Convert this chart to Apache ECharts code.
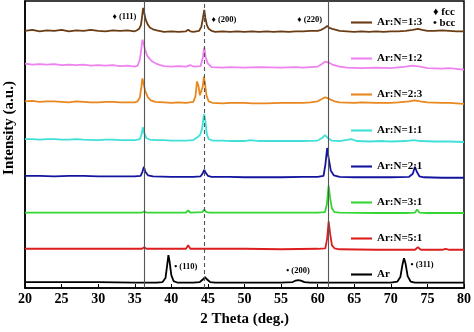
<!DOCTYPE html>
<html><head><meta charset="utf-8">
<script src="https://cdn.jsdelivr.net/npm/echarts@6/dist/echarts.min.js"></script>
<style>html,body{margin:0;padding:0;background:#fff}#c{width:474px;height:332px}</style>
</head><body><div id="c"></div>
<script>
const seriesNames = ['Ar:N=1:3','Ar:N=1:2','Ar:N=2:3','Ar:N=1:1','Ar:N=2:1','Ar:N=3:1','Ar:N=5:1','Ar'];
const xTicks = [20,25,30,35,40,45,50,55,60,65,70,75,80];

const arN13 = [[20,259],[21,260],[22,258.5],[23,259.5],[24,259],[25,260],[26,258.5],[27,259.5],[28,259],[29,260],[30,259],[31,258.5],[32,259.5],[33,259],[34,259.5],[35,258.5],[35.3,259.5],[35.6,261],[35.85,265],[36.0,273],[36.15,282],[36.3,277],[36.5,270],[36.8,265],[37.1,262],[37.5,260.5],[38,259.5],[39,258],[40,258.5],[41,258],[42,258.5],[42.3,260],[42.6,258.5],[43,258],[43.8,259],[44.1,263],[44.3,271],[44.5,280],[44.65,272],[44.85,265],[45.1,261],[45.5,259],[46,258],[47,258.5],[48,258],[49,258.5],[50,258],[51,258.5],[52,258],[53,258.5],[54,258],[55,258.5],[56,258],[57,258.5],[58,258.5],[59,259],[60,259],[60.5,260],[61,262],[61.3,264],[61.6,262],[62,261],[62.5,260],[63,259],[64,258.5],[65,258],[66,258.5],[67,258],[68,258.5],[69,258],[70,258.5],[71,258.5],[72,259],[73,260],[73.7,261],[74.3,260],[75,259],[76,259],[77,259.5],[78,259],[79,258.5],[80,258.5]];
const arN12 = [[20,226],[21,225],[22,225.5],[23,225],[24,225.5],[25,224.5],[26,225],[27,224.5],[28,225],[29,224],[30,224.5],[31,224],[32,224.5],[33,223.5],[34,224],[35,223],[35.4,224],[35.7,230],[35.9,241],[36.05,250],[36.2,247],[36.4,240],[36.7,234],[37.0,231],[37.4,228],[37.9,226],[38.5,224.5],[39,223.5],[40,223],[41,223.5],[42,223],[42.6,224.5],[43,223],[44,223.5],[44.3,232],[44.5,242],[44.7,232],[45,226],[45.5,222.5],[47,222],[48,222.5],[50,222],[52,222.5],[55,222],[57,222.5],[58,222],[60,223],[60.5,225],[61,228],[61.5,227],[62,225],[63,223],[64,222],[66,221.5],[68,222],[70,221.5],[72,223],[73,224],[74,223],[75,221.5],[77,221],[78,221.5],[80,220]];
const arN23 = [[20,188],[21,188.5],[22,187.5],[23,188],[24,188],[25,187.5],[26,187],[27,188],[28,187.5],[29,187],[30,187],[31,187.5],[32,187.5],[33,187],[34,187],[35,187],[35.4,188],[35.7,192],[35.9,202],[36.05,211],[36.2,206],[36.45,198],[36.8,192],[37.2,189],[37.8,187.5],[39,187],[40,186.5],[41,187],[42,186.5],[43,187.5],[43.3,193],[43.5,208],[43.7,204],[43.9,194],[44.1,193],[44.3,203],[44.45,213],[44.6,206],[44.8,194],[45.1,188],[45.6,186.5],[47,186],[48,186.5],[50,186.5],[51,186],[53,186],[55,186.5],[56,186.5],[58,186.5],[59,187],[60,188],[60.5,190],[61,192],[61.3,191.5],[61.7,190],[62.3,188],[63,187],[65,186.5],[66,187],[68,186.5],[70,186.5],[71,187],[72.5,188],[73.3,189],[74,188],[75,187],[77,186.5],[78,186.5],[79,186],[80,185.5]];
const arN11 = [[20,150],[21,150],[22,149.5],[23,150],[24,150],[25,149.5],[26,149.5],[27,150],[28,149.5],[30,149],[31,149.5],[32,149.5],[33,149],[34,149],[35,149],[35.7,150],[35.95,155],[36.1,162],[36.25,157],[36.6,151],[37,149.5],[38,149],[39,149],[40,148.5],[41,148.5],[42,148.5],[43,149],[43.6,152],[43.9,154],[44.2,160],[44.4,172],[44.5,175],[44.65,168],[44.85,155],[45.1,150],[45.6,148.5],[47,148.5],[48,148],[50,148],[50.8,149],[52,148],[54,148],[55,148],[57,148],[58,148],[60,148.5],[60.6,151],[61.0,154],[61.4,151],[61.9,148.5],[63,148],[64.6,150],[65.3,148],[67,147.5],[69,148],[70,147.5],[72,148],[73.2,149],[74,148],[76,147.5],[78,147.5],[80,147]];
const arN21 = [[20,113],[22,113],[24,112.5],[26,113],[28,113],[30,112.5],[32,112.5],[34,112.5],[35,112.5],[35.8,113],[36.05,117],[36.25,122],[36.45,117],[36.8,113.5],[37.5,112.5],[40,112],[42,112],[43,112],[44,112.5],[44.25,115],[44.5,119],[44.7,116],[45,113],[45.5,112],[48,112],[50,111.5],[53,111.5],[55,111.5],[58,112],[60,112],[60.8,113],[61.05,124],[61.3,141],[61.5,131],[61.8,118],[62.2,113.5],[63,112],[65,111.5],[68,111.5],[70,111.5],[72.5,112],[73.0,115],[73.3,122],[73.55,117],[73.9,112.5],[74.5,111.5],[77,111],[80,111]];
const arN31 = [[20,76],[25,76],[30,76],[35,76],[36.0,76],[36.3,77],[36.6,76],[40,76],[42.0,76],[42.3,78],[42.6,76],[44.2,76.5],[44.5,79],[44.8,76.5],[45.2,76],[50,76],[55,76],[60,76],[61.0,76.5],[61.25,84],[61.5,103],[61.7,91],[61.95,80],[62.3,76.5],[63,76],[68,75.5],[72,75.5],[73.3,76],[73.6,79],[73.9,76],[75,75.5],[80,75.5]];
const arN51 = [[20,39.5],[25,39.5],[30,39.5],[35,39.5],[36.0,39.5],[36.3,41],[36.6,39.5],[40,39.5],[42.0,39.5],[42.3,43],[42.6,39.5],[44.3,39.5],[44.5,40.5],[44.7,39.5],[50,39.5],[55,39],[60,39.5],[61.05,40],[61.3,50],[61.5,67],[61.7,55],[61.95,43],[62.3,40],[63,39],[68,38.5],[73.3,38.5],[73.7,41],[74.1,38.5],[77,38.5],[77.5,39.5],[78,38.5],[80,38.5]];
const arOnly = [[20,6],[25,6],[30,6],[35,5.5],[38,5.5],[38.8,6],[39.2,10],[39.45,24],[39.6,33],[39.75,27],[40.0,13],[40.3,7],[40.8,5.5],[43,5.5],[43.9,6],[44.3,8.5],[44.6,11],[44.9,8.5],[45.3,6],[46,5.5],[50,5.5],[55,5.5],[56.6,6],[57.0,7.5],[57.35,8],[57.7,7.5],[58.2,6],[59,5.5],[65,5.5],[70,5.5],[70.9,6.5],[71.3,11],[71.6,24],[71.8,30],[72.0,25],[72.3,12],[72.7,6.5],[73.3,5.5],[76,5.5],[80,5.5]];
const seriesData = [arN13, arN12, arN23, arN11, arN21, arN31, arN51, arOnly];

const solidRefLines = [36.3, 61.5];
const dashedRefLines = [44.5];

const peakLabels = [
  ['\u2666 (111)', 31.95, 273],
  ['\u2666 (200)', 45.5, 270],
  ['\u2666 (220)', 57.2, 270],
  ['\u2022 (110)', 40.4, 21],
  ['\u2022 (200)', 55.7, 17],
  ['\u2022 (311)', 72.7, 23]
];

const colors = ['#6B3C14','#EE82EE','#E8871E','#40E0D8','#1414A0','#33D633','#DC1E1E','#000000'];
const FONT = '"Liberation Serif", "Times New Roman", serif';

const chart = echarts.init(document.getElementById('c'), null, {renderer:'canvas'});

const series = seriesNames.map((n, i) => ({
  name: n, type: 'line', data: seriesData[i], symbol: 'none', smooth: false,
  lineStyle: {color: colors[i], width: 1.8}, itemStyle: {color: colors[i]},
  z: 3
}));
series[7].markLine = {
  silent: true, symbol: 'none', label: {show: false},
  data: solidRefLines.map(v => ({xAxis: v, lineStyle: {type: 'solid', color: '#555', width: 1.1}}))
    .concat(dashedRefLines.map(v => ({xAxis: v, lineStyle: {type: [4, 3], color: '#555', width: 1.1}}))),
  animation: false
};

const legends = seriesNames.map((n, i) => ({
  orient: 'vertical', left: 346, top: 12 + 36 * i, itemWidth: 21, itemHeight: 14,
  icon: 'path://M0,0H20V2H0Z', symbolKeepAspect: true,
  data: [n], selectedMode: false,
  textStyle: {fontFamily: FONT, fontWeight: 'bold', fontSize: 11, color: '#000'}
}));

chart.setOption({
  animation: false,
  backgroundColor: '#fff',
  grid: {left: 25, right: 7, top: 1, bottom: 42, show: true, borderColor: '#000', borderWidth: 1.5},
  xAxis: {
    type: 'value', min: 20, max: 80, interval: 5,
    name: '2 Theta (deg.)', nameLocation: 'middle', nameGap: 24,
    nameTextStyle: {fontFamily: FONT, fontWeight: 'bold', fontSize: 15, color: '#000'},
    axisLine: {show: true, lineStyle: {color: '#000', width: 1.5}},
    axisTick: {show: true, inside: true, length: 4, lineStyle: {color: '#000', width: 1}},
    axisLabel: {fontFamily: FONT, fontWeight: 'bold', fontSize: 14, color: '#000', margin: 4,
      formatter: v => xTicks.includes(v) ? String(v) : ''},
    splitLine: {show: false}
  },
  yAxis: {
    type: 'value', min: 0, max: 289,
    axisLine: {show: true, lineStyle: {color: '#000', width: 1.5}},
    axisTick: {show: false}, axisLabel: {show: false}, splitLine: {show: false}
  },
  legend: legends,
  series: series
});

function placeGraphics() {
  const g = [];
  g.push({type: 'text', x: 9, y: 128, rotation: Math.PI / 2,
    style: {text: 'Intensity (a.u.)', font: 'bold 15px ' + FONT, fill: '#000', textAlign: 'center', textVerticalAlign: 'middle'}});
  g.push({type: 'text', x: 433, y: 12,
    style: {text: '\u2666 fcc', font: 'bold 11px ' + FONT, fill: '#000', textAlign: 'left', textVerticalAlign: 'middle'}});
  g.push({type: 'text', x: 433, y: 23,
    style: {text: '\u2022 bcc', font: 'bold 11px ' + FONT, fill: '#000', textAlign: 'left', textVerticalAlign: 'middle'}});
  peakLabels.forEach(p => {
    const pt = chart.convertToPixel({gridIndex: 0}, [p[1], p[2]]);
    g.push({type: 'text', x: pt[0], y: pt[1],
      style: {text: p[0], font: 'bold 8.5px ' + FONT, fill: '#000', textAlign: 'left', textVerticalAlign: 'middle'}});
  });
  chart.setOption({graphic: g});
}
placeGraphics();
</script></body></html>
